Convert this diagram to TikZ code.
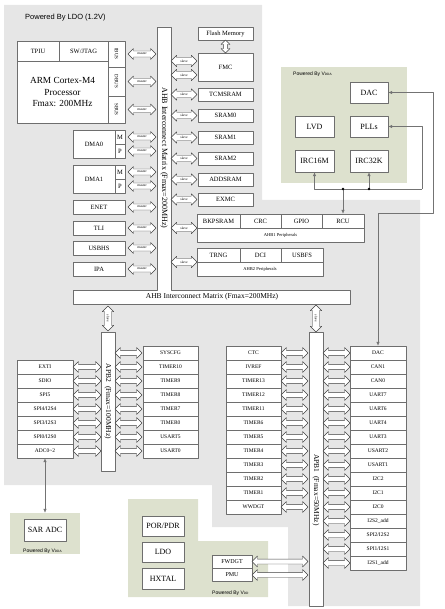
\documentclass[tikz,border=0pt]{standalone}
\usepackage{fontspec}
\setmainfont{Liberation Serif}
\setsansfont{Liberation Sans}
\usetikzlibrary{shapes.arrows,arrows.meta}
\definecolor{zonegray}{HTML}{E6E6E6}
\definecolor{zonegreen}{HTML}{DDE1CE}
\definecolor{boxline}{HTML}{6E6E6E}
\newcommand\fsz[1]{\fontsize{#1}{#1}\selectfont}
\begin{document}
\begin{tikzpicture}[x=1pt, y=-1pt, line join=round, >={Latex[length=4pt,width=3.5pt]},
	box/.style={draw=boxline, fill=white, inner sep=0pt, font=\fsz{6.5}},
	pbox/.style={box, minimum width=55, minimum height=14, font=\fsz{5.5}},
	dbl/.style={double arrow, draw=black!75, fill=white, inner xsep=0pt, inner ysep=1.8pt,
		double arrow head extend=2.5pt, minimum width=11, font=\fsz{3.5}},
	mst/.style={dbl, minimum height=28},
	slv/.style={dbl, minimum height=26},
	wire/.style={draw=black!55, line width=.6pt},
	pwr/.style={anchor=west, inner sep=0pt, font=\sffamily\fsz{5}}]
	\useasboundingbox (0,0) rectangle (444,609);
	% power zones
	\fill[zonegray] (4,5) -| (262,200) -| (420,606) -| (288,527) -| (212,485) -| (4,5) -- cycle;
	\fill[zonegreen] (281,67) rectangle (407,183);
	\fill[zonegreen] (128,499) -| (198,541) -| (268,597) -| (128,499) -- cycle;
	\node[fill=zonegreen, minimum width=70, minimum height=41, inner sep=0pt] (sarzone) at (45,533.5) {};
	\node[pwr, font=\sffamily\fsz{7.5}] (ldolbl) at (25,18) {Powered By LDO (1.2V)};
	\node[pwr] (vddalbl) at (293,74) {Powered By V{\fsz{3.2}DDA}};
	\node[pwr] (sarlbl) at (23,551) {Powered By V{\fsz{3.2}DDA}};
	\node[pwr] (vddlbl) at (212,593) {Powered By V{\fsz{3.2}DD}};
	% core
	\node[box, minimum width=42, minimum height=20] (tpiu) at (38,51) {TPIU};
	\node[box, minimum width=49, minimum height=20] (swj) at (83.5,51) {SW/JTAG};
	\node[box, minimum width=91, minimum height=62, align=center, font=\fontsize{9.3}{11.5}\selectfont] (cpu) at (62.5,92)
		{ARM Cortex-M4\\Processor\\Fmax: 200MHz};
	\node[box, rotate=-90, minimum width=26, minimum height=17, font=\fsz{5}] (ibus) at (116.5,54) {IBUS};
	\node[box, rotate=-90, minimum width=29, minimum height=17, font=\fsz{5}] (dbus) at (116.5,81.5) {DBUS};
	\node[box, rotate=-90, minimum width=27, minimum height=17, font=\fsz{5}] (sbus) at (116.5,109.5) {SBUS};
	% other masters
	\node[box, minimum width=42, minimum height=28] (dma0) at (94,144) {DMA0};
	\node[box, minimum width=10, minimum height=14] (dma0m) at (120,137) {M};
	\node[box, minimum width=10, minimum height=14] (dma0p) at (120,151) {P};
	\node[box, minimum width=42, minimum height=28] (dma1) at (94,179) {DMA1};
	\node[box, minimum width=10, minimum height=14] (dma1m) at (120,172) {M};
	\node[box, minimum width=10, minimum height=14] (dma1p) at (120,186) {P};
	\foreach \y/\n/\lbl in {207/enet/ENET, 228/tli/TLI, 248/usbhs/USBHS, 269/ipa/IPA}
		\node[box, minimum width=52, minimum height=14] (\n) at (99,\y) {\lbl};
	\foreach \y/\n in {54/ib, 81.5/db, 109.5/sb, 137/d0m, 151/d0p, 172/d1m, 186/d1p, 207/enet, 228/tli, 248/usbhs, 269/ipa}
		\node[mst] (m\n) at (142,\y) {master};
	% AHB matrix
	\draw[draw=boxline, fill=white] (157,27) -- (171,27) -- (171,290) -- (350,290) -- (350,304) -- (73,304) -- (73,290) -- (157,290) -- cycle;
	\node[rotate=-90, font=\fsz{8}] (ahbv) at (164,158) {AHB Interconnect Matrix (Fmax=200MHz)};
	\node[font=\fsz{7.5}] (ahbh) at (212,297) {AHB Interconnect Matrix (Fmax=200MHz)};
	% slaves
	\node[box, minimum width=55, minimum height=13] (flash) at (225.5,33.5) {Flash Memory};
	\node[box, minimum width=55, minimum height=28] (fmc) at (225.5,67) {FMC};
	\node[dbl, rotate=90, minimum height=13, minimum width=9, inner ysep=1.5pt] (flashlink) at (225.5,46.5) {};
	\foreach \y/\n/\lbl in {94.5/tcm/TCMSRAM, 115.5/sram0/SRAM0, 137.5/sram1/SRAM1, 158.5/sram2/SRAM2, 179.5/addsram/ADDSRAM, 199.5/exmc/EXMC}
		\node[box, minimum width=55, minimum height=13] (\n) at (225.5,\y) {\lbl};
	\foreach \x/\w/\n/\lbl in {218.5/43/bkp/BKPSRAM, 260.5/41/crc/CRC, 301.5/41/gpio/GPIO, 343/42/rcu/RCU}
		\node[box, minimum width=\w, minimum height=14] (\n) at (\x,221) {\lbl};
	\node[box, minimum width=167, minimum height=14, font=\fsz{4.5}] (ahb1) at (280.5,235) {AHB1 Peripherals};
	\foreach \x/\w/\n/\lbl in {218.5/43/trng/TRNG, 260.5/41/dci/DCI, 302/42/usbfs/USBFS}
		\node[box, minimum width=\w, minimum height=14] (\n) at (\x,255) {\lbl};
	\node[box, minimum width=126, minimum height=14, font=\fsz{4.5}] (ahb2) at (260,269) {AHB2 Peripherals};
	\foreach \y/\n in {61/fmca, 75/fmcb, 94.5/tcm, 115.5/sram0, 137.5/sram1, 158.5/sram2, 179.5/addsram, 199.5/exmc, 228/ahb1, 262/ahb2}
		\node[slv] (s\n) at (184,\y) {slave};
	% APB2
	\node[box, rotate=-90, minimum width=139, minimum height=14, font=\fsz{7.5}] (apb2) at (108,401.5) {APB2\ \ (Fmax=100MHz)};
	\node[dbl, rotate=-90, minimum height=25] (apb2link) at (108,318.5) {slave};
	\foreach \lbl [count=\i from 0] in {EXTI, SDIO, SPI5, SPI4/I2S4, SPI3/I2S3, SPI0/I2S0, ADC0\textasciitilde2} {
		\node[pbox, minimum width=56] (p2l\i) at (45,{367+14*\i}) {\lbl};
		\node[dbl, minimum height=28] (a2l\i) at (87,{367+14*\i}) {};
	}
	\foreach \lbl [count=\i from 0] in {SYSCFG, TIMER10, TIMER9, TIMER8, TIMER7, TIMER0, USART5, USART0} {
		\node[pbox] (p2r\i) at (170.5,{353+14*\i}) {\lbl};
		\node[dbl, minimum height=27] (a2r\i) at (128.5,{353+14*\i}) {};
	}
	% APB1
	\node[box, minimum width=14, minimum height=274] (apb1) at (316,469) {};
	\node[rotate=-90, font=\fsz{7.5}] (apb1lbl) at (316,490) {APB1\ \ (Fmax=50MHz)};
	\node[dbl, rotate=-90, minimum height=27] (apb1link) at (316,318.5) {slave};
	\foreach \lbl [count=\i from 0] in {CTC, IVREF, TIMER13, TIMER12, TIMER11, TIMER6, TIMER5, TIMER4, TIMER3, TIMER2, TIMER1, WWDGT} {
		\node[pbox] (p1l\i) at (253.5,{353+14*\i}) {\lbl};
		\node[dbl, minimum height=27] (a1l\i) at (294.5,{353+14*\i}) {};
	}
	\foreach \lbl [count=\i from 0] in {DAC, CAN1, CAN0, UART7, UART6, UART4, UART3, USART2, USART1, I2C2, I2C1, I2C0, I2S2\_add, SPI2/I2S2, SPI1/I2S1, I2S1\_add} {
		\node[pbox, minimum width=56] (p1r\i) at (378,{353+14*\i}) {\lbl};
		\node[dbl, minimum height=27] (a1r\i) at (336.5,{353+14*\i}) {};
	}
	% VDD domain
	\node[box, minimum width=40, minimum height=13, font=\fsz{6}] (fwdgt) at (232,561.5) {FWDGT};
	\node[box, minimum width=40, minimum height=13, font=\fsz{6}] (pmu) at (232,575) {PMU};
	\node[dbl, minimum height=56] (afwdgt) at (280,561.5) {};
	\node[dbl, minimum height=56] (apmu) at (280,575) {};
	\node[box, minimum width=42, minimum height=20, font=\fsz{8}] (porpdr) at (163,526) {POR/PDR};
	\node[box, minimum width=42, minimum height=20, font=\fsz{8}] (ldo) at (163,552) {LDO};
	\node[box, minimum width=42, minimum height=21, font=\fsz{8}] (hxtal) at (163,578.5) {HXTAL};
	\node[box, minimum width=42, minimum height=22, font=\fsz{8}] (sar) at (45,530) {SAR ADC};
	% VDDA domain
	\node[box, minimum width=38, minimum height=21, font=\fsz{8}] (vdac) at (369,92.5) {DAC};
	\node[box, minimum width=39, minimum height=21, font=\fsz{8}] (lvd) at (314.5,126.5) {LVD};
	\node[box, minimum width=38, minimum height=21, font=\fsz{8}] (plls) at (369,126.5) {PLLs};
	\node[box, minimum width=39, minimum height=22, font=\fsz{8}] (irc16) at (314.5,161) {IRC16M};
	\node[box, minimum width=38, minimum height=22, font=\fsz{8}] (irc32) at (369,161) {IRC32K};
	% analog and clock wires
	\draw[wire, <->] (p2l6.south) -- (sarzone.north);
	\coordinate (dacturn) at (433,213);
	\draw[wire, <->] (vdac.east) -| (dacturn) -| (p1r0.north);
	\coordinate (clkturn) at (422,189);
	\coordinate (clk32) at (irc32.south |- clkturn);
	\coordinate (clkrcu) at (rcu.north |- clkturn);
	\draw[wire, ->] (clkturn) |- (plls.east);
	\draw[wire, ->] (clkturn) -| (irc16.south);
	\draw[wire, ->] (clk32) -- (irc32.south);
	\draw[wire, ->] (clkrcu) -- (rcu.north);
	\fill (clk32) circle (1.3) (clkrcu) circle (1.3);
\end{tikzpicture}
\end{document}
